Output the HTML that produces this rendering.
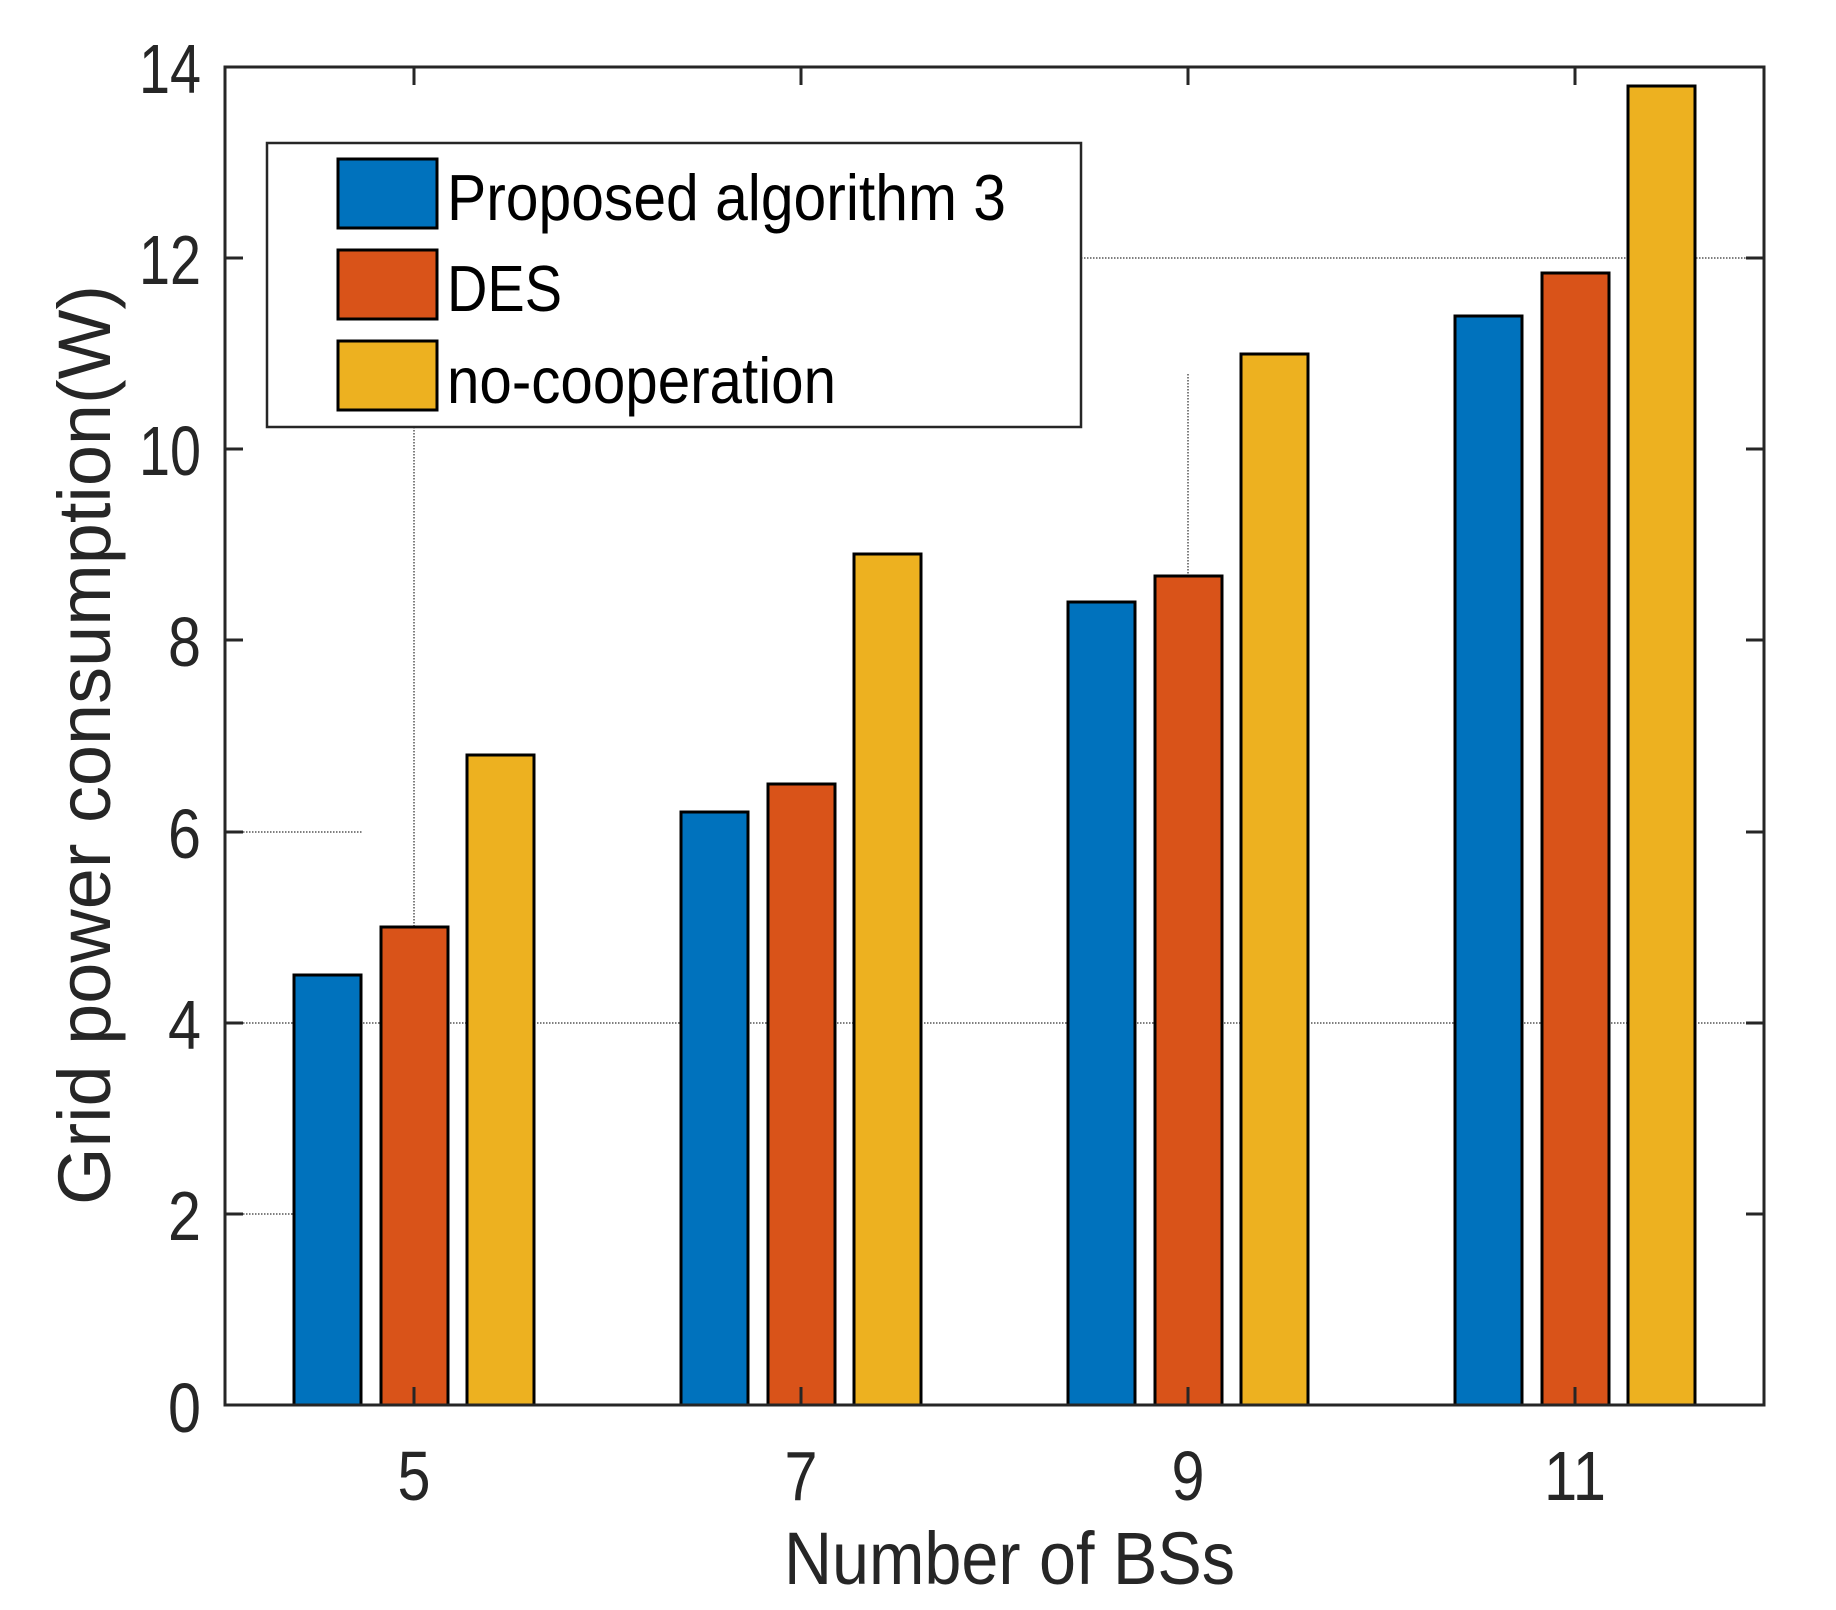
<!DOCTYPE html>
<html><head><style>body{margin:0;background:#fff}</style></head><body>
<svg width="1836" height="1605" viewBox="0 0 1836 1605" xmlns="http://www.w3.org/2000/svg" font-family="Liberation Sans, sans-serif">
<rect width="1836" height="1605" fill="#fff"/>
<g stroke="#555" stroke-width="1.5" stroke-dasharray="1.5,1.5">
<line x1="1081" y1="258" x2="1764" y2="258"/>
<line x1="225" y1="1023" x2="1764" y2="1023"/>
<line x1="225" y1="1214" x2="294" y2="1214"/>
<line x1="225" y1="832" x2="362" y2="832"/>
<line x1="414" y1="427" x2="414" y2="927"/>
<line x1="1188" y1="374" x2="1188" y2="576"/>
</g>
<g stroke="#000" stroke-width="3">
<rect x="294" y="975" width="67" height="430" fill="#0072BD"/>
<rect x="381" y="927" width="67" height="478" fill="#D95319"/>
<rect x="467" y="755" width="67" height="650" fill="#EDB120"/>
<rect x="681" y="812" width="67" height="593" fill="#0072BD"/>
<rect x="768" y="784" width="67" height="621" fill="#D95319"/>
<rect x="854" y="554" width="67" height="851" fill="#EDB120"/>
<rect x="1068" y="602" width="67" height="803" fill="#0072BD"/>
<rect x="1155" y="576" width="67" height="829" fill="#D95319"/>
<rect x="1241" y="354" width="67" height="1051" fill="#EDB120"/>
<rect x="1455" y="316" width="67" height="1089" fill="#0072BD"/>
<rect x="1542" y="273" width="67" height="1132" fill="#D95319"/>
<rect x="1628" y="86" width="67" height="1319" fill="#EDB120"/>
</g>
<rect x="225" y="67" width="1539" height="1338" fill="none" stroke="#262626" stroke-width="3"/>
<g stroke="#262626" stroke-width="3">
<line x1="225" y1="1214" x2="243" y2="1214"/><line x1="1764" y1="1214" x2="1746" y2="1214"/>
<line x1="225" y1="1023" x2="243" y2="1023"/><line x1="1764" y1="1023" x2="1746" y2="1023"/>
<line x1="225" y1="832" x2="243" y2="832"/><line x1="1764" y1="832" x2="1746" y2="832"/>
<line x1="225" y1="640" x2="243" y2="640"/><line x1="1764" y1="640" x2="1746" y2="640"/>
<line x1="225" y1="449" x2="243" y2="449"/><line x1="1764" y1="449" x2="1746" y2="449"/>
<line x1="225" y1="258" x2="243" y2="258"/><line x1="1764" y1="258" x2="1746" y2="258"/>
<line x1="414" y1="67" x2="414" y2="85"/><line x1="801" y1="67" x2="801" y2="85"/>
<line x1="1188" y1="67" x2="1188" y2="85"/><line x1="1575" y1="67" x2="1575" y2="85"/>
<line x1="414" y1="1405" x2="414" y2="1387"/><line x1="801" y1="1405" x2="801" y2="1387"/>
<line x1="1188" y1="1405" x2="1188" y2="1387"/><line x1="1575" y1="1405" x2="1575" y2="1387"/>
</g>
<g font-size="70" fill="#262626" text-anchor="end">
<text x="201" y="1432" textLength="33" lengthAdjust="spacingAndGlyphs">0</text>
<text x="201" y="1240" textLength="33" lengthAdjust="spacingAndGlyphs">2</text>
<text x="201" y="1049" textLength="33" lengthAdjust="spacingAndGlyphs">4</text>
<text x="201" y="858" textLength="33" lengthAdjust="spacingAndGlyphs">6</text>
<text x="201" y="666" textLength="33" lengthAdjust="spacingAndGlyphs">8</text>
<text x="201" y="475" textLength="62" lengthAdjust="spacingAndGlyphs">10</text>
<text x="201" y="284" textLength="62" lengthAdjust="spacingAndGlyphs">12</text>
<text x="201" y="93" textLength="62" lengthAdjust="spacingAndGlyphs">14</text>
</g>
<g font-size="70" fill="#262626" text-anchor="middle">
<text x="414" y="1500" textLength="33" lengthAdjust="spacingAndGlyphs">5</text>
<text x="801" y="1500" textLength="33" lengthAdjust="spacingAndGlyphs">7</text>
<text x="1188" y="1500" textLength="33" lengthAdjust="spacingAndGlyphs">9</text>
<text x="1575" y="1500" textLength="62" lengthAdjust="spacingAndGlyphs">11</text>
</g>
<text x="784" y="1584" font-size="74" fill="#262626" textLength="451" lengthAdjust="spacingAndGlyphs">Number of BSs</text>
<text transform="translate(110,1205) rotate(-90)" font-size="74" fill="#262626" textLength="920" lengthAdjust="spacingAndGlyphs">Grid power consumption(W)</text>
<rect x="267" y="143" width="814" height="284" fill="#fff" stroke="#262626" stroke-width="2.5"/>
<g stroke="#000" stroke-width="3">
<rect x="338" y="159" width="99" height="69" fill="#0072BD"/>
<rect x="338" y="250" width="99" height="69" fill="#D95319"/>
<rect x="338" y="341" width="99" height="69" fill="#EDB120"/>
</g>
<g font-size="65" fill="#000">
<text x="447" y="220" textLength="559" lengthAdjust="spacingAndGlyphs">Proposed algorithm 3</text>
<text x="447" y="311" textLength="115" lengthAdjust="spacingAndGlyphs">DES</text>
<text x="447" y="403" textLength="389" lengthAdjust="spacingAndGlyphs">no-cooperation</text>
</g>
</svg>
</body></html>
